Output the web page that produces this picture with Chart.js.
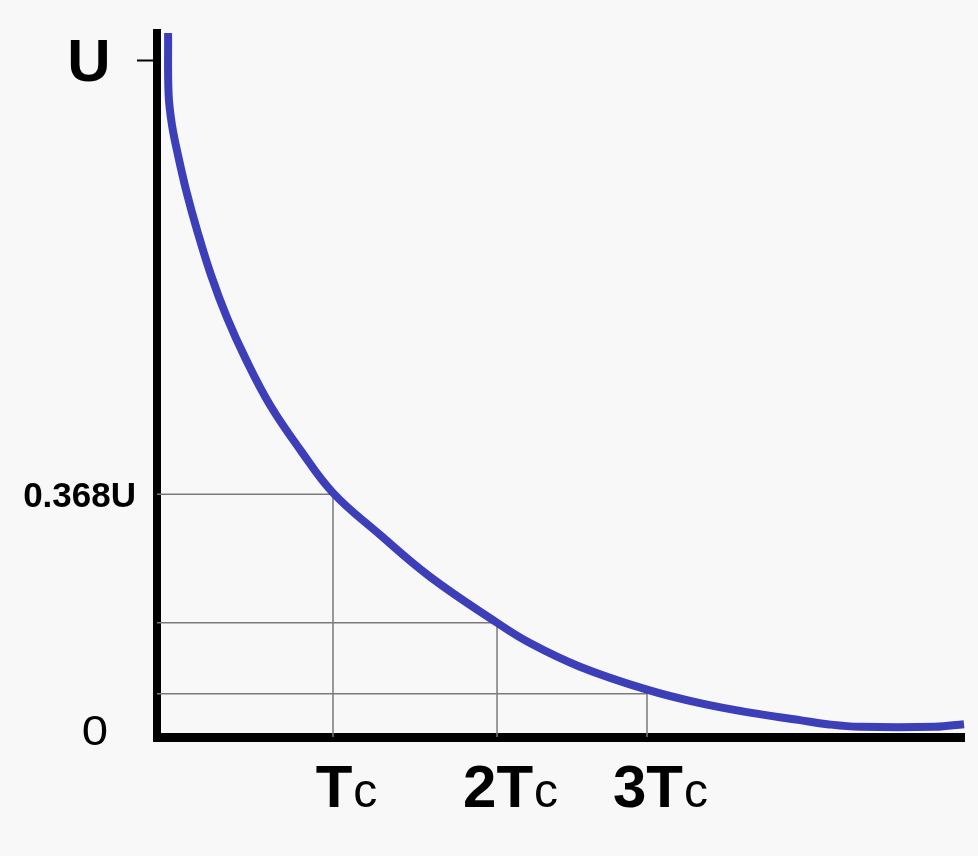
<!DOCTYPE html>
<html>
<head>
<meta charset="utf-8">
<script src="https://cdn.jsdelivr.net/npm/chart.js@4.4.0/dist/chart.umd.min.js"></script>
<style>
  html, body { margin: 0; padding: 0; background: #f8f8f8; }
  #wrap { width: 978px; height: 856px; position: relative; }
</style>
</head>
<body>
<div id="wrap"><canvas id="decayChart"></canvas></div>
<script>
// Discharge curve: time in units of Tc, voltage as a fraction of U
const timeValues = [0.063, 0.066, 0.085, 0.118, 0.165, 0.227, 0.307, 0.398, 0.506, 0.642, 0.813, 1.0, 1.267, 1.551, 1.932, 2.119, 2.403, 2.784, 3.085, 3.369, 3.653, 3.807, 3.994, 4.420, 4.585];
const voltageValues = [1.041, 0.950, 0.905, 0.862, 0.809, 0.750, 0.683, 0.620, 0.558, 0.491, 0.425, 0.361, 0.299, 0.237, 0.169, 0.139, 0.104, 0.070, 0.050, 0.036, 0.025, 0.019, 0.015, 0.015, 0.019];

// thin guide lines at Tc, 2Tc, 3Tc
const guideTimes = [1.0, 1.932, 2.784];
const guideLevels = [0.359, 0.169, 0.064];

// axis labels
const xTickLabels = ["Tc", "2Tc", "3Tc"];
const yTickValues = [0, 0.359, 1];
const yTickLabels = ["0", "0.368U", "U"];

const FONT = '"Liberation Sans", Arial, sans-serif';

const curveDataset = {
    data: timeValues.map((t, i) => ({ x: t, y: voltageValues[i] })),
    borderColor: '#3c3fb8',
    borderWidth: 8,
    pointRadius: 0,
    tension: 0.4,
    clip: false
};

const guideDatasets = guideTimes.map((t, i) => ({
    data: [{ x: 0, y: guideLevels[i] }, { x: t, y: guideLevels[i] }, { x: t, y: 0 }],
    borderColor: '#7a7a7a',
    borderWidth: 1.5,
    pointRadius: 0,
    tension: 0
}));

// label styles for the y axis (0, 0.368U, U)
const yLabelStyle = [
    { font: '43px ' + FONT, align: 'center', x: 95, dy: 8, sx: 1.1 },
    { font: 'bold 35px ' + FONT, align: 'right', x: 136, dy: 13, sx: 1 },
    { font: 'bold 60px ' + FONT, align: 'center', x: 89, dy: 20, sx: 1 }
];

const axisLabels = {
    id: 'axisLabels',
    afterDraw(chart) {
        const { ctx, scales: { x, y } } = chart;
        ctx.save();
        ctx.fillStyle = '#000';
        ctx.textBaseline = 'alphabetic';

        yTickValues.forEach((v, i) => {
            const st = yLabelStyle[i];
            const py = y.getPixelForValue(v);
            ctx.save();
            ctx.font = st.font;
            ctx.textAlign = st.align;
            ctx.translate(st.x, py + st.dy);
            ctx.scale(st.sx, 1);
            ctx.fillText(yTickLabels[i], 0, 0);
            ctx.restore();
        });

        // "T" big and bold, the trailing "c" smaller and regular
        const base = chart.chartArea.bottom + 70;
        xTickLabels.forEach((label, i) => {
            const px = x.getPixelForValue(guideTimes[i]) + 13;
            const head = label.slice(0, -1);
            const tail = label.slice(-1);
            ctx.font = 'bold 60px ' + FONT;
            const w1 = ctx.measureText(head).width;
            ctx.font = '48px ' + FONT;
            const w2 = ctx.measureText(tail).width;
            const start = px - (w1 + w2) / 2;
            ctx.textAlign = 'left';
            ctx.font = 'bold 60px ' + FONT;
            ctx.fillText(head, start, base);
            ctx.font = '48px ' + FONT;
            ctx.fillText(tail, start + w1 + 1, base);
        });
        ctx.restore();
    }
};

new Chart(document.getElementById('decayChart').getContext('2d'), {
    type: 'line',
    data: { datasets: [curveDataset, ...guideDatasets] },
    options: {
        responsive: true,
        maintainAspectRatio: false,
        animation: false,
        layout: { padding: { left: 157, right: 14, top: 33, bottom: 119 } },
        plugins: {
            legend: { display: false },
            tooltip: { enabled: false }
        },
        scales: {
            x: {
                type: 'linear',
                min: 0,
                max: 4.585,
                afterFit: s => { s.height = 0; },
                grid: { display: false },
                ticks: { display: false },
                border: { color: '#000', width: 9 }
            },
            y: {
                min: 0,
                max: 1.041,
                afterFit: s => { s.width = 0; },
                afterBuildTicks: s => { s.ticks = yTickValues.map(v => ({ value: v })); },
                grid: {
                    drawOnChartArea: false,
                    drawTicks: true,
                    tickLength: 20,
                    tickWidth: 2,
                    tickColor: c => (c.tick && c.tick.value === 1 ? '#000' : 'rgba(0,0,0,0)')
                },
                ticks: { display: false },
                border: { color: '#000', width: 8 }
            }
        }
    },
    plugins: [axisLabels]
});
</script>
</body>
</html>
